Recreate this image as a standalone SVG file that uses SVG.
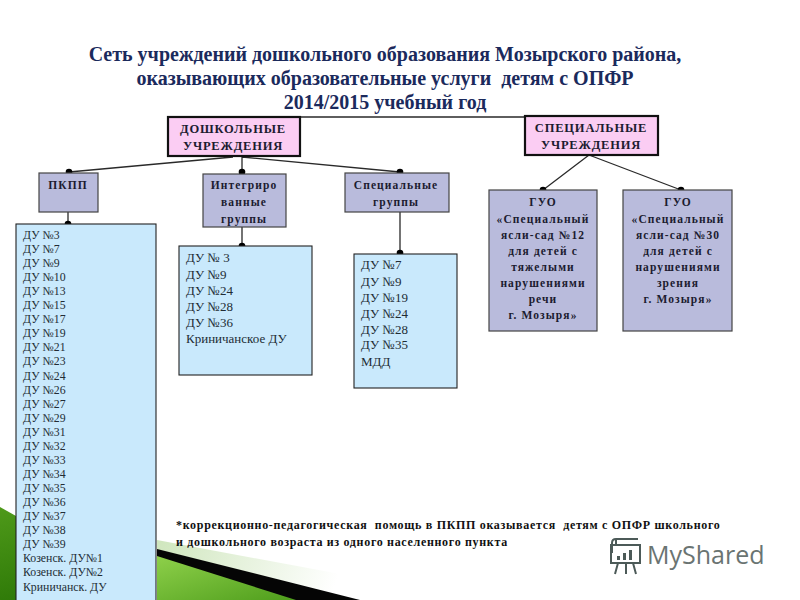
<svg xmlns="http://www.w3.org/2000/svg" width="800" height="600" viewBox="0 0 800 600">
<style>
text{font-family:"Liberation Serif","Times New Roman",serif;white-space:pre}
.t{font-size:20px;font-weight:bold;fill:#1b2a5c;text-anchor:middle}
.head{fill:#fbcdf3;stroke:#111;stroke-width:2.2}
.grp{fill:#b9bbdc;stroke:#444;stroke-width:1.2}
.list{fill:#c9e9fc;stroke:#222;stroke-width:1.1}
.hl{font-size:12.5px;font-weight:bold;fill:#1c1c30;text-anchor:middle;letter-spacing:.8px}
.gl{font-size:11.5px;font-weight:bold;fill:#1c1c30;text-anchor:middle;letter-spacing:1.1px}
.ll{font-size:11.8px;fill:#222c34}
.ml{font-size:13px;fill:#222c34}
.fn{font-size:12px;font-weight:bold;fill:#111;letter-spacing:.68px}
.c{stroke:#2a2a2a;stroke-width:1.3;fill:none}
.d{fill:#000}
</style>
<defs>
<linearGradient id="lg" x1="0" y1="0" x2="1" y2="1"><stop offset="0" stop-color="#8ed04a"/><stop offset="1" stop-color="#4f9e1c"/></linearGradient>
<linearGradient id="pale" x1="157" y1="540" x2="330" y2="600" gradientUnits="userSpaceOnUse"><stop offset="0" stop-color="#cfe6bd"/><stop offset="1" stop-color="#ffffff"/></linearGradient>
<linearGradient id="dk" x1="0" y1="505" x2="20" y2="600" gradientUnits="userSpaceOnUse"><stop offset="0" stop-color="#4f9a1a"/><stop offset="1" stop-color="#2f7a08"/></linearGradient>
</defs>
<rect width="800" height="600" fill="#fff"/>
<g id="background">
<polygon points="157,540 480,600 157,600" fill="url(#pale)"/>
<polygon points="0,507 16,516 16,600 0,600" fill="url(#dk)"/>
<polygon points="157,549 360,600 157,600" fill="#050505"/>
<polygon points="157,556 296,600 157,600" fill="url(#lg)"/>
</g>
<g id="title">
<text class="t" x="385" y="61">Сеть учреждений дошкольного образования Мозырского района,</text>
<text class="t" x="385" y="85">оказывающих образовательные услуги  детям с ОПФР</text>
<text class="t" x="385" y="109">2014/2015 учебный год</text>
</g>
<g id="connectors">
<path class="c" d="M300 117H526M233 157L69 172M242 157V172M242 157L400 172M589 155L543 190M589 155L681 190M68 212V224M242 227V246M400 212V258"/>
<circle class="d" cx="69" cy="172" r="3.3"/><circle class="d" cx="242" cy="172" r="3.3"/><circle class="d" cx="400" cy="172" r="3.3"/>
<circle class="d" cx="543" cy="190" r="3.3"/><circle class="d" cx="681" cy="190" r="3.3"/>
<circle class="d" cx="68" cy="224" r="3.3"/><circle class="d" cx="242" cy="246" r="3.3"/><circle class="d" cx="400" cy="253" r="3.3"/>
</g>
<g id="node-preschool"><rect class="head" x="168" y="117" width="132" height="39"/>
<text class="hl" x="233" y="133">ДОШКОЛЬНЫЕ</text><text class="hl" x="233" y="150">УЧРЕЖДЕНИЯ</text></g>
<g id="node-special"><rect class="head" x="525" y="116" width="133" height="39"/>
<text class="hl" x="591" y="132">СПЕЦИАЛЬНЫЕ</text><text class="hl" x="591" y="149">УЧРЕЖДЕНИЯ</text></g>
<g id="node-pkpp"><rect class="grp" x="39" y="173" width="59" height="39"/>
<text class="gl" x="68" y="189">ПКПП</text></g>
<g id="node-integrated"><rect class="grp" x="203" y="174" width="83" height="53"/>
<text class="gl" x="244" y="189">Интегриро</text><text class="gl" x="244" y="206">ванные</text><text class="gl" x="244" y="223">группы</text></g>
<g id="node-specgroups"><rect class="grp" x="345" y="173" width="104" height="39"/>
<text class="gl" x="396" y="189">Специальные</text><text class="gl" x="396" y="206">группы</text></g>
<g id="node-guo12"><rect class="grp" x="489" y="190" width="108" height="141"/>
<text class="gl" x="543" y="206">ГУО</text><text class="gl" x="543" y="223">«Специальный</text><text class="gl" x="543" y="239">ясли-сад №12</text><text class="gl" x="543" y="255">для детей с</text><text class="gl" x="543" y="271">тяжелыми</text><text class="gl" x="543" y="287">нарушениями</text><text class="gl" x="543" y="303">речи</text><text class="gl" x="543" y="319">г. Мозыря»</text></g>
<g id="node-guo30"><rect class="grp" x="623" y="190" width="109" height="141"/>
<text class="gl" x="678" y="206">ГУО</text><text class="gl" x="678" y="223">«Специальный</text><text class="gl" x="678" y="239">ясли-сад №30</text><text class="gl" x="678" y="255">для детей с</text><text class="gl" x="678" y="271">нарушениями</text><text class="gl" x="678" y="287">зрения</text><text class="gl" x="678" y="303">г. Мозыря»</text></g>
<g id="node-list1"><rect class="list" x="16" y="224" width="140" height="380"/>
<text class="ll" x="23" y="239">ДУ №3</text><text class="ll" x="23" y="253">ДУ №7</text><text class="ll" x="23" y="267">ДУ №9</text><text class="ll" x="23" y="281">ДУ №10</text><text class="ll" x="23" y="295">ДУ №13</text><text class="ll" x="23" y="309">ДУ №15</text><text class="ll" x="23" y="323">ДУ №17</text><text class="ll" x="23" y="337">ДУ №19</text><text class="ll" x="23" y="351">ДУ №21</text><text class="ll" x="23" y="365">ДУ №23</text><text class="ll" x="23" y="380">ДУ №24</text><text class="ll" x="23" y="394">ДУ №26</text><text class="ll" x="23" y="408">ДУ №27</text><text class="ll" x="23" y="422">ДУ №29</text><text class="ll" x="23" y="436">ДУ №31</text><text class="ll" x="23" y="450">ДУ №32</text><text class="ll" x="23" y="464">ДУ №33</text><text class="ll" x="23" y="478">ДУ №34</text><text class="ll" x="23" y="492">ДУ №35</text><text class="ll" x="23" y="506">ДУ №36</text><text class="ll" x="23" y="520">ДУ №37</text><text class="ll" x="23" y="534">ДУ №38</text><text class="ll" x="23" y="548">ДУ №39</text><text class="ll" x="23" y="562">Козенск. ДУ№1</text><text class="ll" x="23" y="576">Козенск. ДУ№2</text><text class="ll" x="23" y="591">Криничанск. ДУ</text>
</g>
<g id="node-list2"><rect class="list" x="179" y="246" width="133" height="129"/>
<text class="ml" x="186" y="262">ДУ № 3</text><text class="ml" x="186" y="279">ДУ №9</text><text class="ml" x="186" y="295">ДУ №24</text><text class="ml" x="186" y="311">ДУ №28</text><text class="ml" x="186" y="327">ДУ №36</text><text class="ml" x="186" y="343">Криничанское ДУ</text>
</g>
<g id="node-list3"><rect class="list" x="354" y="254" width="103" height="134"/>
<text class="ml" x="361" y="269">ДУ №7</text><text class="ml" x="361" y="286">ДУ №9</text><text class="ml" x="361" y="302">ДУ №19</text><text class="ml" x="361" y="318">ДУ №24</text><text class="ml" x="361" y="334">ДУ №28</text><text class="ml" x="361" y="349">ДУ №35</text><text class="ml" x="361" y="366">МДД</text>
</g>
<g id="footnote">
<text class="fn" x="176" y="529">*коррекционно-педагогическая  помощь в ПКПП оказывается  детям с ОПФР школьного</text>
<text class="fn" x="176" y="546">и дошкольного возраста из одного населенного пункта</text>
</g>
<g id="watermark">
<path d="M612 553V543Q612 539 616 539H638M616 539V545M611 545H640V563H611Z M618 563L615 574M626 563V574M633 563L636 574" fill="none" stroke="#4c5a58" stroke-width="2"/>
<rect x="617" y="556" width="3" height="4" fill="#4c5a58"/><rect x="623" y="553" width="3" height="7" fill="#4c5a58"/><rect x="629" y="550" width="3" height="10" fill="#4c5a58"/>
<text x="647" y="564" font-size="25" style="font-family:'Open Sans',sans-serif" fill="#6a7472">MyShared</text>
</g>
</svg>
